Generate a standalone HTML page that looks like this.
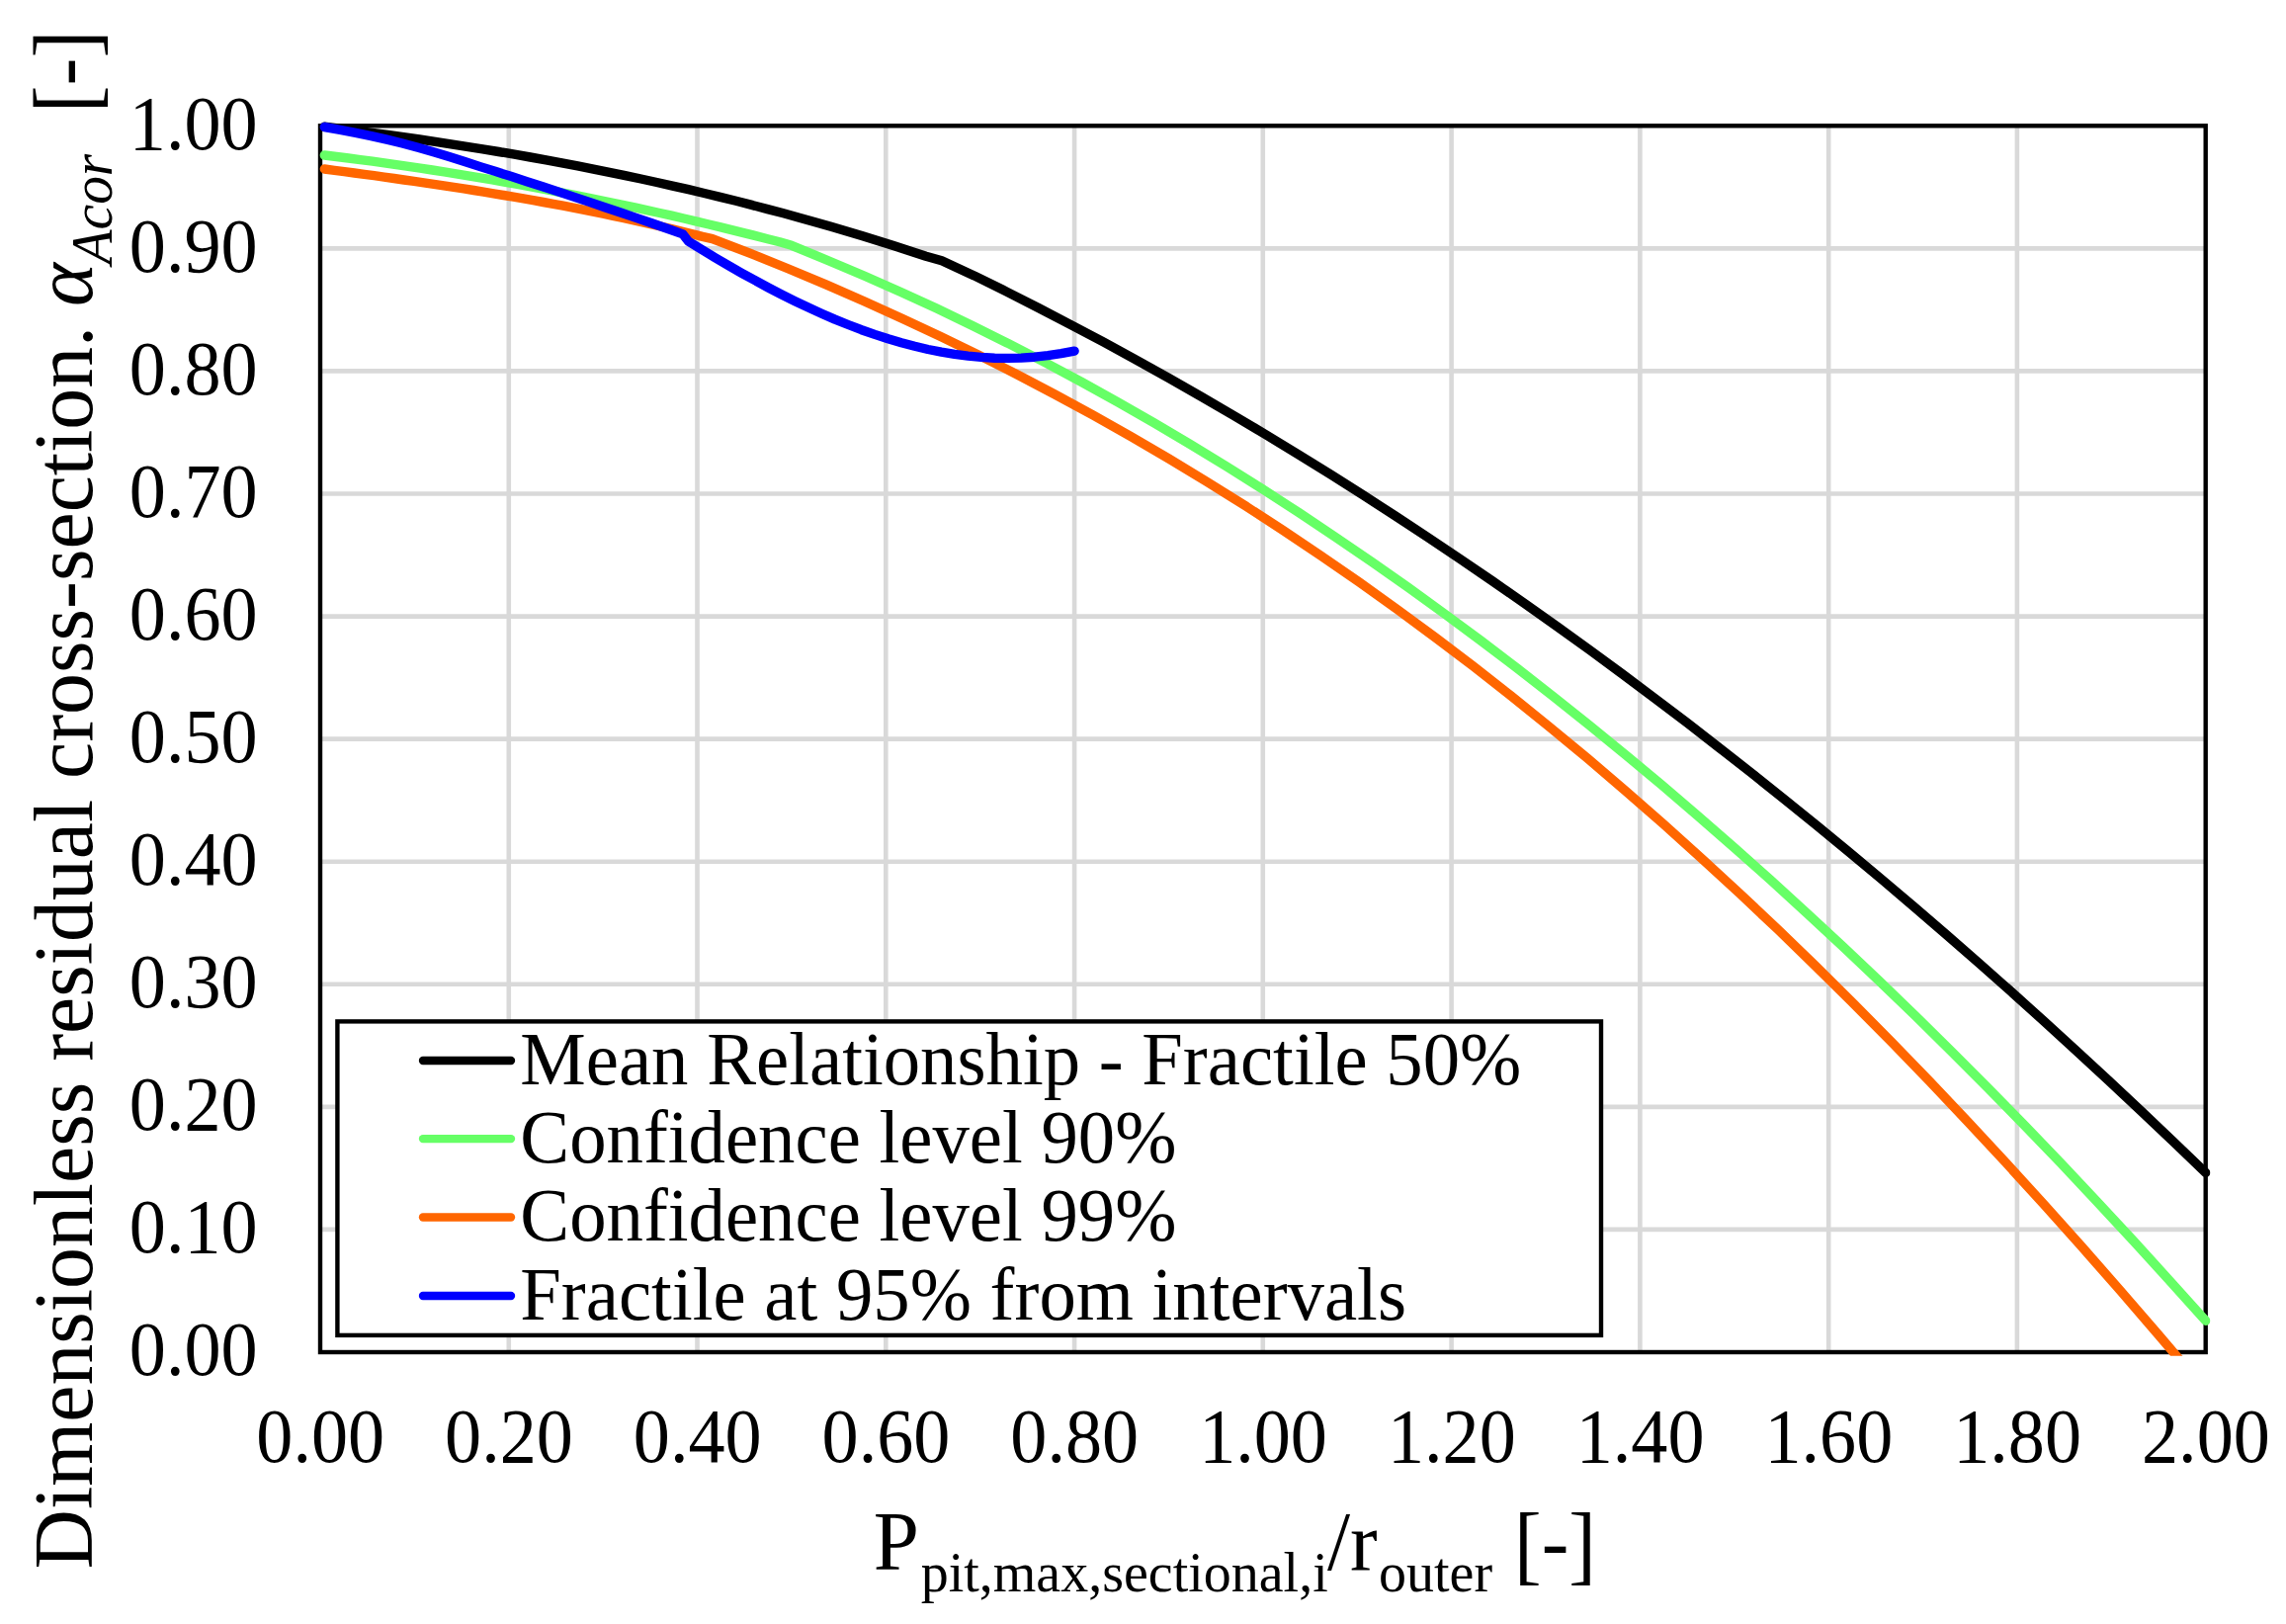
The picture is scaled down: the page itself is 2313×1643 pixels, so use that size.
<!DOCTYPE html>
<html><head><meta charset="utf-8"><title>chart</title>
<style>
html,body{margin:0;padding:0;background:#fff;}
svg{display:block;}
text{font-family:"Liberation Serif",serif;fill:#000;}
.it{font-style:italic;}
</style></head><body>
<svg width="2313" height="1643" viewBox="0 0 2313 1643">
<rect x="0" y="0" width="2313" height="1643" fill="#fff"/>
<g stroke="#d9d9d9" stroke-width="4.6" fill="none"><line x1="514.8" y1="127.3" x2="514.8" y2="1368.0"/><line x1="705.5" y1="127.3" x2="705.5" y2="1368.0"/><line x1="896.3" y1="127.3" x2="896.3" y2="1368.0"/><line x1="1087.1" y1="127.3" x2="1087.1" y2="1368.0"/><line x1="1277.8" y1="127.3" x2="1277.8" y2="1368.0"/><line x1="1468.6" y1="127.3" x2="1468.6" y2="1368.0"/><line x1="1659.4" y1="127.3" x2="1659.4" y2="1368.0"/><line x1="1850.2" y1="127.3" x2="1850.2" y2="1368.0"/><line x1="2040.9" y1="127.3" x2="2040.9" y2="1368.0"/><line x1="324.0" y1="1243.9" x2="2231.7" y2="1243.9"/><line x1="324.0" y1="1119.9" x2="2231.7" y2="1119.9"/><line x1="324.0" y1="995.8" x2="2231.7" y2="995.8"/><line x1="324.0" y1="871.7" x2="2231.7" y2="871.7"/><line x1="324.0" y1="747.6" x2="2231.7" y2="747.6"/><line x1="324.0" y1="623.6" x2="2231.7" y2="623.6"/><line x1="324.0" y1="499.5" x2="2231.7" y2="499.5"/><line x1="324.0" y1="375.4" x2="2231.7" y2="375.4"/><line x1="324.0" y1="251.4" x2="2231.7" y2="251.4"/></g>
<rect x="324.0" y="127.3" width="1907.7" height="1240.7" fill="none" stroke="#000" stroke-width="4.4"/>
<clipPath id="cp"><rect x="320" y="123" width="1916.5" height="1248.8"/></clipPath>
<g fill="none" stroke-width="9.4" stroke-linejoin="round" stroke-linecap="round" clip-path="url(#cp)">
<path d="M328.3,128.1 L344.3,130.1 L360.3,132.2 L376.3,134.3 L392.4,136.4 L408.4,138.7 L424.4,141.0 L440.4,143.3 L456.4,145.8 L472.4,148.3 L488.4,150.8 L504.5,153.5 L520.5,156.2 L536.5,159.0 L552.5,161.9 L568.5,164.9 L584.5,167.9 L600.5,171.1 L616.6,174.3 L632.6,177.6 L648.6,181.0 L664.6,184.5 L680.6,188.1 L696.6,191.7 L712.6,195.5 L728.7,199.4 L744.7,203.3 L760.7,207.4 L776.7,211.6 L792.7,215.8 L808.7,220.2 L824.8,224.7 L840.8,229.3 L856.8,234.0 L872.8,238.8 L888.8,243.7 L904.8,248.8 L920.8,253.9 L936.9,259.2 L952.9,263.8 L985.7,278.9 L1018.5,295.1 L1051.2,311.7 L1084.0,328.8 L1116.8,346.2 L1149.6,364.1 L1182.4,382.4 L1215.2,401.1 L1248.0,420.2 L1280.8,439.7 L1313.6,459.7 L1346.4,480.0 L1379.1,500.8 L1411.9,522.0 L1444.7,543.6 L1477.5,565.6 L1510.3,588.0 L1543.1,610.9 L1575.9,634.2 L1608.7,657.8 L1641.5,681.9 L1674.3,706.4 L1707.1,731.3 L1739.8,756.7 L1772.6,782.4 L1805.4,808.6 L1838.2,835.1 L1871.0,862.1 L1903.8,889.5 L1936.6,917.4 L1969.4,945.6 L2002.2,974.2 L2035.0,1003.3 L2067.7,1032.8 L2100.5,1062.7 L2133.3,1093.0 L2166.1,1123.7 L2198.9,1154.8 L2231.7,1186.4" stroke="#000"/>
<path d="M328.3,157.0 L340.4,158.5 L352.5,160.0 L364.6,161.6 L376.8,163.2 L388.9,164.9 L401.0,166.6 L413.1,168.4 L425.2,170.2 L437.4,172.0 L449.5,173.9 L461.6,175.8 L473.7,177.8 L485.8,179.8 L498.0,181.9 L510.1,184.0 L522.2,186.2 L534.3,188.4 L546.4,190.6 L558.5,192.9 L570.7,195.3 L582.8,197.6 L594.9,200.1 L607.0,202.5 L619.1,205.0 L631.3,207.6 L643.4,210.2 L655.5,212.8 L667.6,215.5 L679.7,218.2 L691.9,221.0 L704.0,223.8 L716.1,226.7 L728.2,229.6 L740.3,232.6 L752.4,235.6 L764.6,238.6 L776.7,241.7 L788.8,244.8 L800.9,248.3 L837.6,263.5 L874.3,279.0 L911.0,295.2 L947.7,312.1 L984.4,329.7 L1021.0,347.9 L1057.7,366.9 L1094.4,386.5 L1131.1,406.9 L1167.8,427.9 L1204.5,449.6 L1241.2,472.0 L1277.8,495.0 L1314.5,518.8 L1351.2,543.3 L1387.9,568.4 L1424.6,594.2 L1461.3,620.7 L1498.0,647.9 L1534.7,675.8 L1571.3,704.4 L1608.0,733.7 L1644.7,763.6 L1681.4,794.2 L1718.1,825.6 L1754.8,857.6 L1791.5,890.3 L1828.1,923.7 L1864.8,957.7 L1901.5,992.5 L1938.2,1027.9 L1974.9,1064.1 L2011.6,1100.9 L2048.3,1138.4 L2085.0,1176.6 L2121.6,1215.5 L2158.3,1255.0 L2195.0,1295.3 L2231.7,1336.2" stroke="#66ff66"/>
<path d="M328.3,171.0 L338.4,172.3 L348.4,173.7 L358.5,175.0 L368.5,176.4 L378.6,177.7 L388.7,179.1 L398.7,180.5 L408.8,182.0 L418.9,183.4 L428.9,184.9 L439.0,186.3 L449.1,187.9 L459.1,189.4 L469.2,190.9 L479.3,192.5 L489.3,194.1 L499.4,195.8 L509.5,197.5 L519.5,199.2 L529.6,200.9 L539.6,202.7 L549.7,204.5 L559.8,206.3 L569.8,208.2 L579.9,210.2 L590.0,212.1 L600.0,214.1 L610.1,216.2 L620.2,218.3 L630.2,220.4 L640.3,222.6 L650.4,224.9 L660.4,227.2 L670.5,229.5 L680.5,231.9 L690.6,234.3 L700.7,236.8 L710.7,239.4 L720.8,241.7 L759.3,256.4 L797.8,272.0 L836.3,288.2 L874.8,305.0 L913.3,322.5 L951.8,340.6 L990.3,359.3 L1028.8,378.8 L1067.3,399.0 L1105.8,419.9 L1144.3,441.6 L1182.8,464.1 L1221.3,487.4 L1259.8,511.6 L1298.2,536.5 L1336.7,562.3 L1375.2,588.9 L1413.7,616.5 L1452.2,644.9 L1490.7,674.1 L1529.2,704.3 L1567.7,735.3 L1606.2,767.2 L1644.7,800.1 L1683.2,833.8 L1721.7,868.4 L1760.2,903.9 L1798.7,940.2 L1837.2,977.5 L1875.7,1015.6 L1914.2,1054.5 L1952.7,1094.3 L1991.2,1135.0 L2029.7,1176.4 L2068.2,1218.7 L2106.7,1261.7 L2145.2,1305.5 L2183.7,1350.1 L2222.2,1395.3" stroke="#ff6600"/>
<path d="M328.3,128.5 L344.1,131.3 L359.8,134.4 L375.6,137.6 L391.3,141.2 L407.1,145.0 L422.9,149.2 L438.6,153.7 L454.4,158.5 L470.2,163.5 L485.9,168.6 L501.7,173.6 L517.5,178.6 L533.2,183.7 L549.0,188.8 L564.7,193.9 L580.5,199.1 L596.3,204.4 L612.0,209.7 L627.8,215.0 L643.6,220.4 L659.3,225.8 L675.1,231.3 L690.9,236.9 L696.7,244.3 L710.1,252.5 L723.6,260.7 L737.1,268.6 L750.5,276.3 L764.0,283.7 L777.4,291.0 L790.9,298.0 L804.4,304.7 L817.8,311.1 L831.3,317.2 L844.8,323.1 L858.2,328.5 L871.7,333.7 L885.1,338.4 L898.6,342.8 L912.1,346.8 L925.5,350.3 L939.0,353.5 L952.5,356.2 L965.9,358.4 L979.4,360.1 L992.8,361.4 L1006.3,362.2 L1019.8,362.4 L1033.2,362.1 L1046.7,361.2 L1060.2,359.7 L1073.6,357.7 L1087.1,355.1" stroke="#0000ff"/>
</g>
<rect x="341.4" y="1033.4" width="1278.6" height="317.5" fill="#fff" stroke="#000" stroke-width="4.4"/>
<line x1="428" y1="1073" x2="517" y2="1073" stroke="#000" stroke-width="8.4" stroke-linecap="round"/><text transform="translate(526.30,1096.80) scale(1,1.025)" font-size="74.75" text-anchor="start">Mean Relationship - Fractile 50%</text>
<line x1="428" y1="1152.1" x2="517" y2="1152.1" stroke="#66ff66" stroke-width="8.4" stroke-linecap="round"/><text transform="translate(526.30,1175.90) scale(1,1.025)" font-size="74.75" text-anchor="start">Confidence level 90%</text>
<line x1="428" y1="1231.5" x2="517" y2="1231.5" stroke="#ff6600" stroke-width="8.4" stroke-linecap="round"/><text transform="translate(526.30,1255.30) scale(1,1.025)" font-size="74.75" text-anchor="start">Confidence level 99%</text>
<line x1="428" y1="1311" x2="517" y2="1311" stroke="#0000ff" stroke-width="8.4" stroke-linecap="round"/><text transform="translate(526.30,1334.80) scale(1,1.025)" font-size="74.75" text-anchor="start">Fractile at 95% from intervals</text>
<text transform="translate(260.70,1391.30) scale(1,1.045)" font-size="74.2" text-anchor="end">0.00</text><text transform="translate(260.70,1267.23) scale(1,1.045)" font-size="74.2" text-anchor="end">0.10</text><text transform="translate(260.70,1143.16) scale(1,1.045)" font-size="74.2" text-anchor="end">0.20</text><text transform="translate(260.70,1019.09) scale(1,1.045)" font-size="74.2" text-anchor="end">0.30</text><text transform="translate(260.70,895.02) scale(1,1.045)" font-size="74.2" text-anchor="end">0.40</text><text transform="translate(260.70,770.95) scale(1,1.045)" font-size="74.2" text-anchor="end">0.50</text><text transform="translate(260.70,646.88) scale(1,1.045)" font-size="74.2" text-anchor="end">0.60</text><text transform="translate(260.70,522.81) scale(1,1.045)" font-size="74.2" text-anchor="end">0.70</text><text transform="translate(260.70,398.74) scale(1,1.045)" font-size="74.2" text-anchor="end">0.80</text><text transform="translate(260.70,274.67) scale(1,1.045)" font-size="74.2" text-anchor="end">0.90</text><text transform="translate(260.70,150.60) scale(1,1.045)" font-size="74.2" text-anchor="end">1.00</text>
<text transform="translate(324.20,1479.20) scale(1,1.045)" font-size="74.2" text-anchor="middle">0.00</text><text transform="translate(514.97,1479.20) scale(1,1.045)" font-size="74.2" text-anchor="middle">0.20</text><text transform="translate(705.74,1479.20) scale(1,1.045)" font-size="74.2" text-anchor="middle">0.40</text><text transform="translate(896.51,1479.20) scale(1,1.045)" font-size="74.2" text-anchor="middle">0.60</text><text transform="translate(1087.28,1479.20) scale(1,1.045)" font-size="74.2" text-anchor="middle">0.80</text><text transform="translate(1278.05,1479.20) scale(1,1.045)" font-size="74.2" text-anchor="middle">1.00</text><text transform="translate(1468.82,1479.20) scale(1,1.045)" font-size="74.2" text-anchor="middle">1.20</text><text transform="translate(1659.59,1479.20) scale(1,1.045)" font-size="74.2" text-anchor="middle">1.40</text><text transform="translate(1850.36,1479.20) scale(1,1.045)" font-size="74.2" text-anchor="middle">1.60</text><text transform="translate(2041.13,1479.20) scale(1,1.045)" font-size="74.2" text-anchor="middle">1.80</text><text transform="translate(2231.90,1479.20) scale(1,1.045)" font-size="74.2" text-anchor="middle">2.00</text>
<text transform="translate(883.70,1588.00) scale(1,1.03)" font-size="83" text-anchor="start">P</text><text transform="translate(931.70,1609.50) scale(1,1.03)" font-size="56" text-anchor="start">pit,max,sectional,i</text><text transform="translate(1343.00,1588.00) scale(1,1.03)" font-size="83" text-anchor="start">/r</text><text transform="translate(1395.00,1609.50) scale(1,1.03)" font-size="56" text-anchor="start">outer</text><text transform="translate(1532.00,1592.10) scale(1,1.08)" font-size="83" text-anchor="start">[</text><text transform="translate(1559.64,1588.00) scale(1,1.03)" font-size="83" text-anchor="start">-</text><text transform="translate(1587.28,1592.10) scale(1,1.08)" font-size="83" text-anchor="start">]</text>
<text transform="translate(92.70,1587.50) rotate(-90) scale(1,1.02)" font-size="83.7" text-anchor="start">Dimensionless residual cross-section.</text><text class="it" transform="translate(92.70,310.00) rotate(-90) scale(1,1.02)" font-size="83.7" text-anchor="start">α</text><text class="it" transform="translate(112.50,267.50) rotate(-90) scale(1,1.02)" font-size="57.5" text-anchor="start">Acor</text><text transform="translate(96.80,114.30) rotate(-90) scale(1,1.08)" font-size="83.7" text-anchor="start">[</text><text transform="translate(92.70,86.43) rotate(-90) scale(1,1.02)" font-size="83.7" text-anchor="start">-</text><text transform="translate(96.80,58.56) rotate(-90) scale(1,1.08)" font-size="83.7" text-anchor="start">]</text>
</svg>
</body></html>
